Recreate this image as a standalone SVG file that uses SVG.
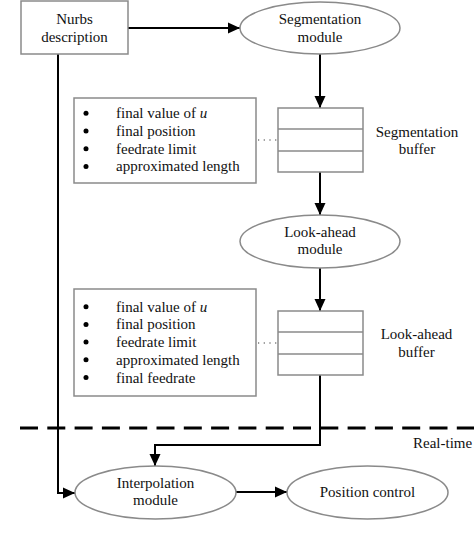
<svg xmlns="http://www.w3.org/2000/svg" width="474" height="545" viewBox="0 0 474 545">
<defs>
<marker id="arr" markerUnits="userSpaceOnUse" markerWidth="12" markerHeight="12" viewBox="0 0 12 12" refX="12" refY="6" orient="auto">
<path d="M0,0.5 L12,6 L0,11.5 Z" fill="#000"/>
</marker>
<style>
text{font-family:"Liberation Serif","Times New Roman",serif;font-size:15px;fill:#111}
.c{text-anchor:middle}
.box{fill:#fff;stroke:#8a8a8a;stroke-width:1.5}
.conn{fill:none;stroke:#000;stroke-width:2}
.dot{fill:none;stroke:#333;stroke-width:1.2;stroke-dasharray:1.2 4.5}
.bul{fill:#000}
</style>
</defs>
<rect width="474" height="545" fill="#fff"/>

<g id="connectors">
<line class="conn" x1="128" y1="28" x2="240" y2="28" marker-end="url(#arr)"/>
<line class="conn" x1="320" y1="54" x2="320" y2="108" marker-end="url(#arr)"/>
<line class="conn" x1="320" y1="172" x2="320" y2="215" marker-end="url(#arr)"/>
<line class="conn" x1="320" y1="268" x2="320" y2="311" marker-end="url(#arr)"/>
<polyline class="conn" points="320,375 320,445 155,445 155,466" marker-end="url(#arr)"/>
<polyline class="conn" points="58,54 58,493 75,493" marker-end="url(#arr)"/>
<line class="conn" x1="236" y1="492" x2="287" y2="492" marker-end="url(#arr)"/>
<line class="dot" x1="258" y1="140" x2="278" y2="140"/>
<line class="dot" x1="258" y1="343" x2="278" y2="343"/>
</g>

<g id="realtime">
<line x1="20" y1="428" x2="474" y2="428" stroke="#000" stroke-width="3" stroke-dasharray="18 9.3"/>
<text x="413" y="448">Real-time</text>
</g>

<g id="nurbs">
<rect class="box" x="21" y="1" width="107" height="53"/>
<text class="c" x="74.5" y="24">Nurbs</text>
<text class="c" x="74.5" y="42">description</text>
</g>

<g id="segmentation-module">
<ellipse class="box" cx="320" cy="28" rx="80" ry="26"/>
<text class="c" x="320" y="24">Segmentation</text>
<text class="c" x="320" y="42">module</text>
</g>

<g id="segmentation-list">
<rect class="box" x="74" y="98" width="182" height="85"/>
<circle class="bul" cx="86" cy="113.3" r="2.5"/>
<circle class="bul" cx="86" cy="131" r="2.5"/>
<circle class="bul" cx="86" cy="148.7" r="2.5"/>
<circle class="bul" cx="86" cy="166.4" r="2.5"/>
<text x="116" y="118.3">final value of <tspan font-style="italic">u</tspan></text>
<text x="116" y="136">final position</text>
<text x="116" y="153.7">feedrate limit</text>
<text x="116" y="171.4">approximated length</text>
</g>

<g id="segmentation-buffer">
<rect class="box" x="278" y="108" width="85" height="64"/>
<line class="box" x1="278" y1="129" x2="363" y2="129"/>
<line class="box" x1="278" y1="151" x2="363" y2="151"/>
<text class="c" x="417" y="137">Segmentation</text>
<text class="c" x="417" y="154">buffer</text>
</g>

<g id="lookahead-module">
<ellipse class="box" cx="320" cy="241.5" rx="80" ry="26.5"/>
<text class="c" x="320" y="237.3">Look-ahead</text>
<text class="c" x="320" y="254.3">module</text>
</g>

<g id="lookahead-list">
<rect class="box" x="74" y="289" width="182" height="107"/>
<circle class="bul" cx="86" cy="306.7" r="2.5"/>
<circle class="bul" cx="86" cy="324.4" r="2.5"/>
<circle class="bul" cx="86" cy="342.1" r="2.5"/>
<circle class="bul" cx="86" cy="359.8" r="2.5"/>
<circle class="bul" cx="86" cy="377.5" r="2.5"/>
<text x="116" y="311.7">final value of <tspan font-style="italic">u</tspan></text>
<text x="116" y="329.4">final position</text>
<text x="116" y="347.1">feedrate limit</text>
<text x="116" y="364.8">approximated length</text>
<text x="116" y="382.5">final feedrate</text>
</g>

<g id="lookahead-buffer">
<rect class="box" x="278" y="311" width="85" height="64"/>
<line class="box" x1="278" y1="332" x2="363" y2="332"/>
<line class="box" x1="278" y1="354" x2="363" y2="354"/>
<text class="c" x="416.5" y="339">Look-ahead</text>
<text class="c" x="416.5" y="357">buffer</text>
</g>

<g id="interpolation-module">
<ellipse class="box" cx="155.5" cy="492.5" rx="80.5" ry="26.5"/>
<text class="c" x="155.5" y="488.3">Interpolation</text>
<text class="c" x="155.5" y="505">module</text>
</g>

<g id="position-control">
<ellipse class="box" cx="367.5" cy="492.5" rx="80.5" ry="26.5"/>
<text class="c" x="367.5" y="496.7">Position control</text>
</g>
</svg>
